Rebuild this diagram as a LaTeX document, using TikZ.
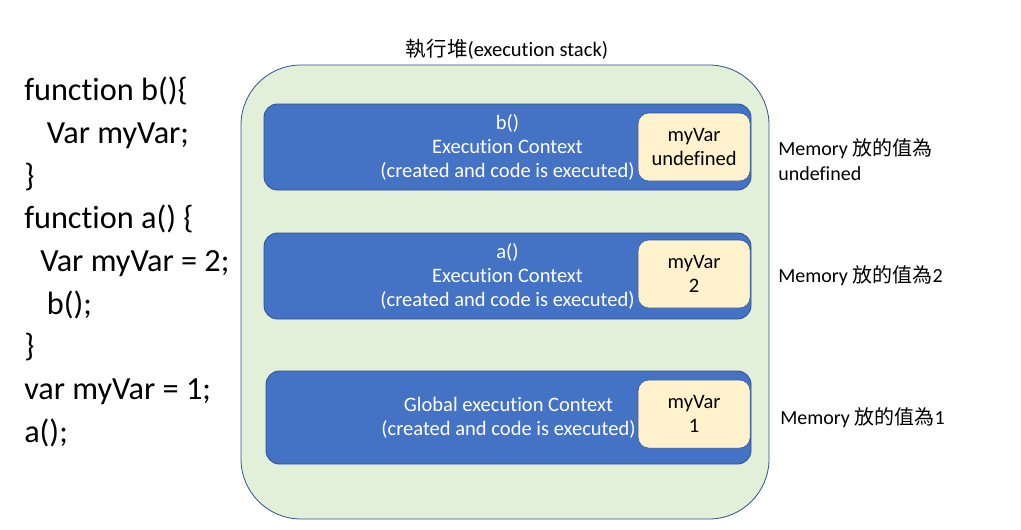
\documentclass[tikz,border=0pt]{standalone}
\usepackage{fontspec}
\setmainfont{Carlito}[Ligatures=NoCommon]
\newfontfamily\cjk{Noto Sans CJK TC}
\usetikzlibrary{positioning}
\definecolor{stackgreen}{HTML}{E2F0D9}
\definecolor{ctxblue}{HTML}{4472C4}
\definecolor{edgeblue}{HTML}{2F528F}
\definecolor{memyellow}{HTML}{FFF2CC}

\begin{document}
\begin{tikzpicture}[x=0.75pt,y=-0.75pt]
	\tikzstyle{stack}=[rectangle,rounded corners=45pt,draw=edgeblue,fill=stackgreen,line width=0.6pt,minimum width=396pt,minimum height=340.5pt]
	\tikzstyle{context}=[rectangle,rounded corners=10pt,draw=edgeblue,fill=ctxblue,line width=0.6pt,text=white,align=center,minimum width=365.25pt,minimum height=64.5pt,font=\fontsize{15.4}{18}\selectfont]
	\tikzstyle{memory}=[rectangle,rounded corners=8pt,draw=edgeblue,fill=memyellow,line width=0.4pt,align=center,minimum width=84pt,minimum height=51pt,font=\fontsize{15.4}{18}\selectfont]
	\tikzstyle{note}=[anchor=west,align=left,inner sep=0pt,font=\fontsize{15}{18.75}\selectfont]

	\useasboundingbox (0,0) rectangle (1021,529);

	% code listing
	\node [anchor=north west,align=left,inner sep=0pt,font=\fontsize{24.2}{32}\selectfont] (code) at (24,77)
		{function b()\{\\
		\hspace*{17pt}Var myVar;\\
		\}\\
		function a() \{\\
		\hspace*{12pt}Var myVar = 2;\\
		\hspace*{17pt}b();\\
		\}\\
		var myVar = 1;\\
		a();};

	% execution stack
	\node [stack] (stack) at (505,292) {};
	\node [font=\fontsize{15.4}{18}\selectfont] (title) at (507,49) {{\cjk 執行堆}(execution stack)};

	\node [context] (bctx) at (507.5,147) {b()\\Execution Context\\(created and code is executed)};
	\node [context] (actx) at (507.5,276) {a()\\Execution Context\\(created and code is executed)};
	\node [context,minimum width=363.75pt,minimum height=69.75pt] (gctx) at (508.5,417.5) {Global execution Context\\(created and code is executed)};

	\node [memory] (bmem) [left=0.75pt of bctx.east,anchor=east] {myVar\\undefined};
	\node [memory] (amem) [left=0.75pt of actx.east,anchor=east,yshift=1.5pt] {myVar\\2};
	\node [memory] (gmem) [left=0.75pt of gctx.east,anchor=east,yshift=2.6pt] {myVar\\1};

	% memory notes
	\node [note] (bnote) [right=20pt of bctx.east,yshift=-9.4pt] {Memory {\cjk 放的值為}\\undefined};
	\node [note] (anote) [right=20pt of actx.east] {Memory {\cjk 放的值為}2};
	\node [note] (gnote) [right=21.5pt of gctx.east] {Memory {\cjk 放的值為}1};
\end{tikzpicture}
\end{document}
